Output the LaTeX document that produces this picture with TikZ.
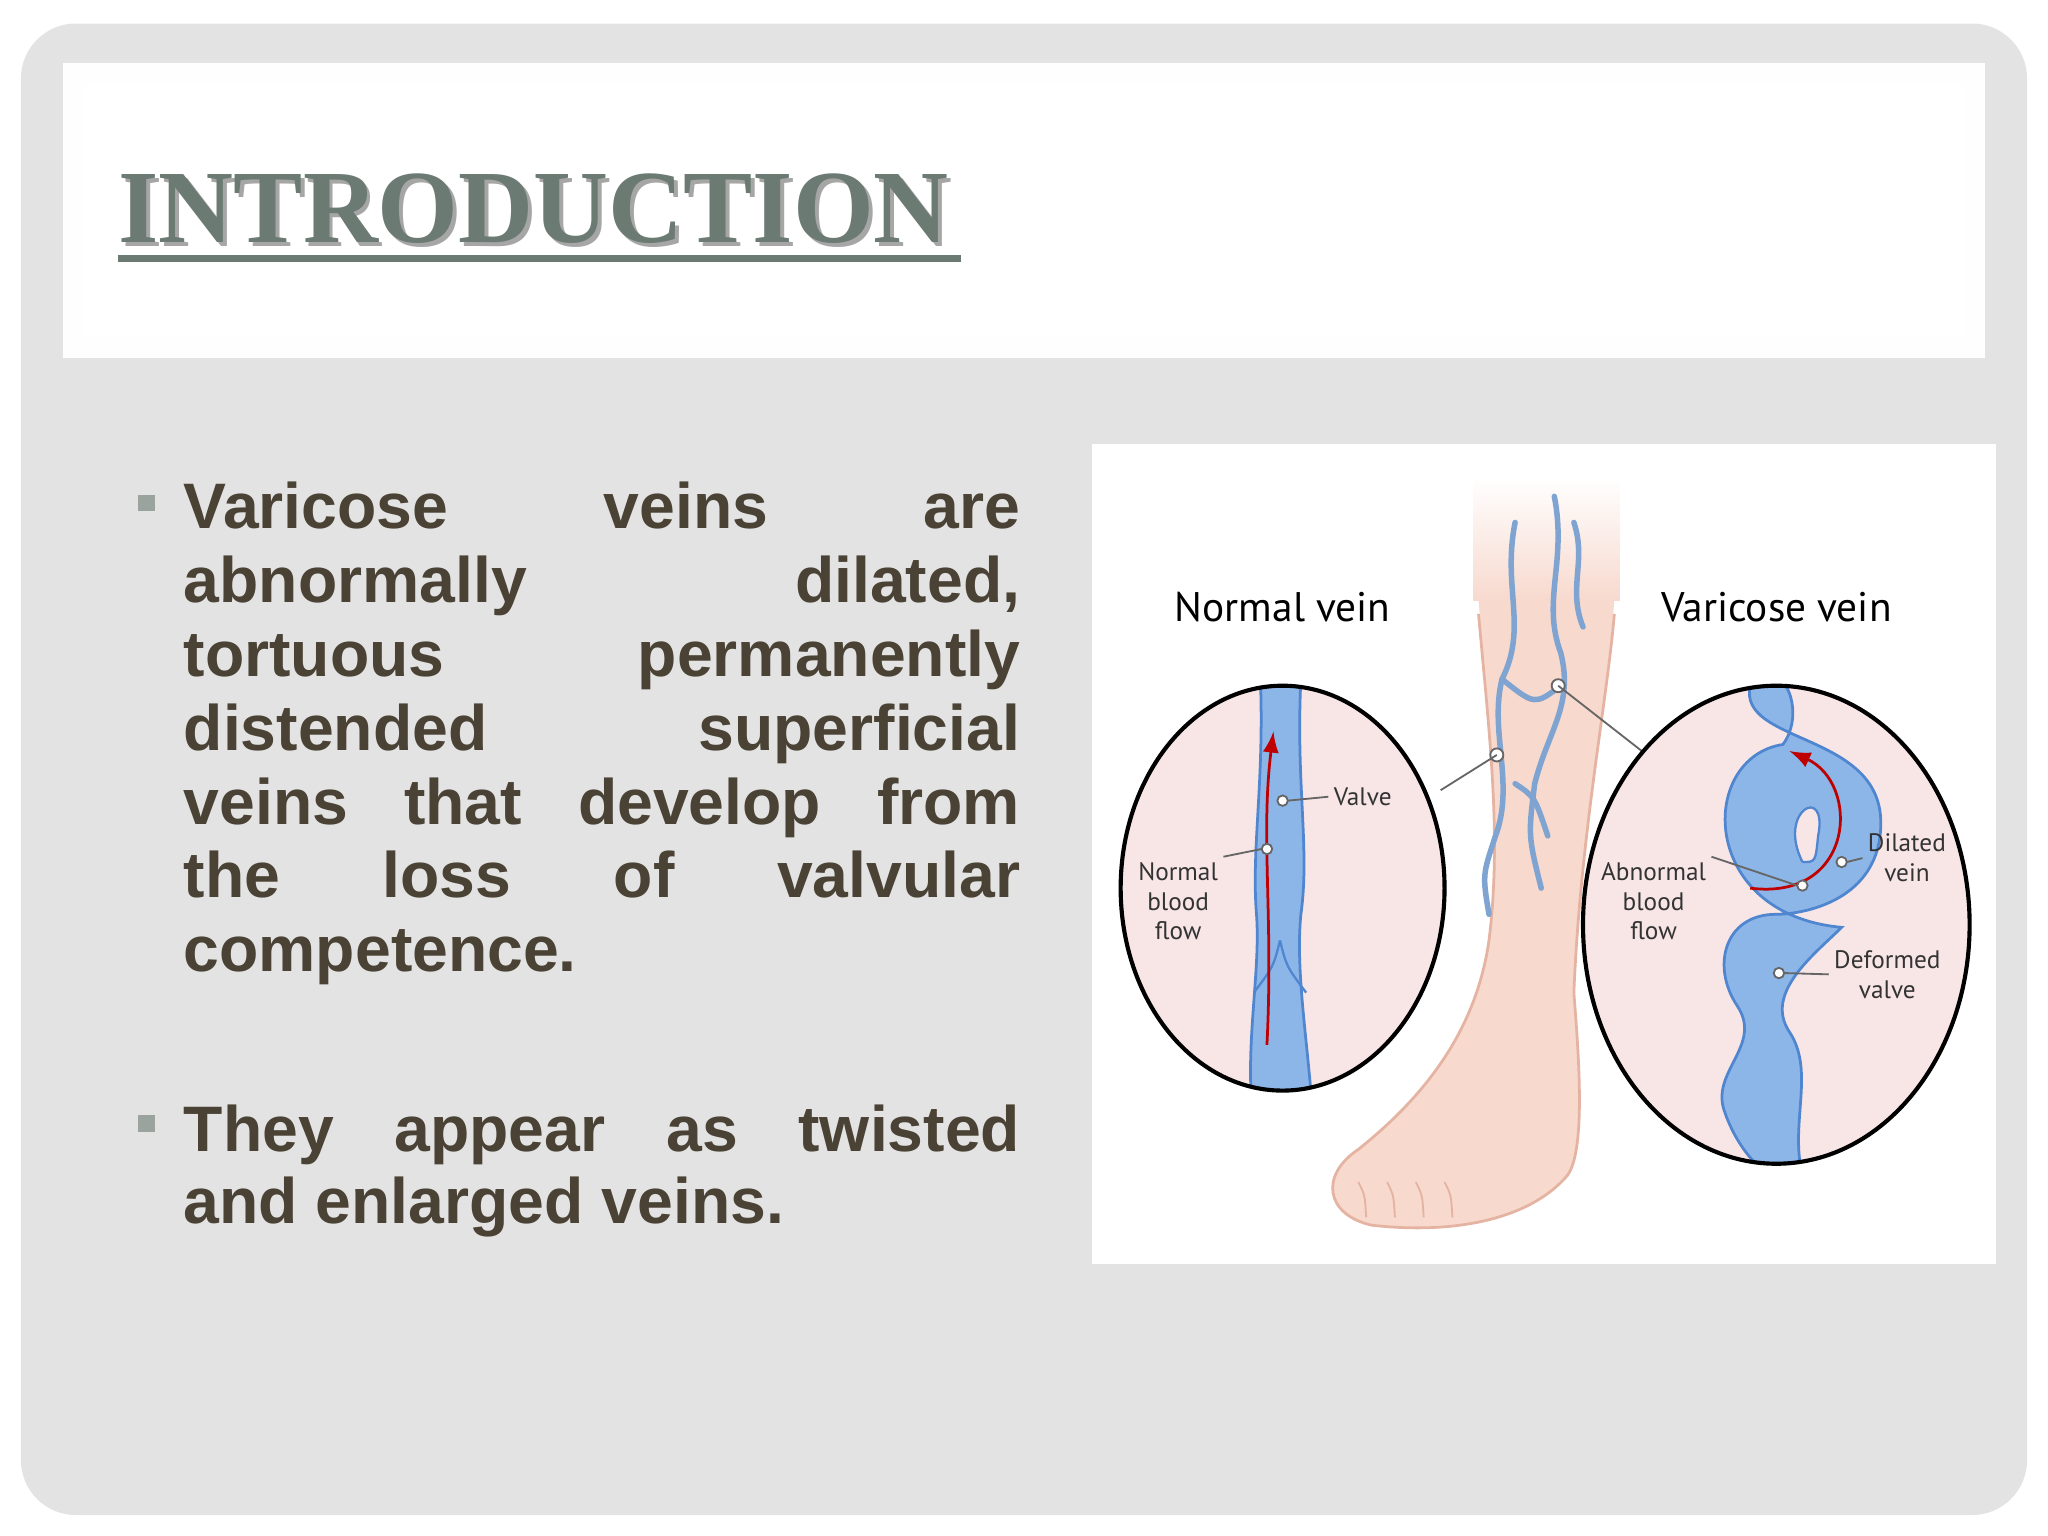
\documentclass[tikz,border=0pt]{standalone}
\usepackage{fontspec}
\setmainfont{Liberation Serif}
\setsansfont{Liberation Sans}
\newfontfamily\lblfont{PT Sans}
\begin{document}
\begin{tikzpicture}[x=0.01cm,y=-0.01cm,
  body/.style={anchor=base west,inner sep=0,font=\sffamily\bfseries\fontsize{14}{16}\selectfont,text=txt},
  bul/.style={fill=bulgray,minimum size=3.6pt,inner sep=0},
  lbl/.style={font=\lblfont\fontsize{5.5}{6.5}\selectfont,align=center,inner sep=1,text=black!80},
  vein/.style={fill=veinblue,draw=veindark,line width=0.6pt},
  thinvein/.style={draw=veinblue!90!black,line width=1.2pt,line cap=round}]
\definecolor{bg}{HTML}{E3E3E3}
\definecolor{txt}{HTML}{4A4234}
\definecolor{bulgray}{HTML}{9AA39E}
\definecolor{ttl}{HTML}{6B7A72}
\definecolor{skin}{HTML}{F7D9CE}
\definecolor{skinedge}{HTML}{E5B3A2}
\definecolor{veinblue}{HTML}{8DB6E8}
\definecolor{veindark}{HTML}{4F86CF}
\definecolor{pinkbg}{HTML}{F8E6E6}
\useasboundingbox (0,0) rectangle (1568,1176);
\fill[white] (0,0) rectangle (1568,1176);
\fill[bg,rounded corners=12] (16,18) rectangle (1552,1160);
\fill[white!95!bg] (48,48) rectangle (1520,274);
\fill[white] (64,64) rectangle (1504,258);
% title
\node[anchor=base west,inner sep=0,text=black!35,font=\bfseries\fontsize{22.6}{26}\selectfont] at (93,189) {INTRODUCTION};
\node (title) [anchor=base west,inner sep=0,text=ttl,font=\bfseries\fontsize{22.6}{26}\selectfont] at (90,186) {INTRODUCTION};
\draw[ttl,line width=1.5pt] (90,198) -- (736,198);
% bullets
\node (b1) [bul] at (112,385) {};
\node (b2) [bul] at (112,860) {};
\node (l1) [body] at (140,405) {\hbox to 6.4cm{Varicose\hfill veins\hfill are}};
\node (l2) [body] at (140,461.5) {\hbox to 6.4cm{abnormally\hfill dilated,}};
\node (l3) [body] at (140,518) {\hbox to 6.4cm{tortuous\hfill permanently}};
\node (l4) [body] at (140,574.5) {\hbox to 6.4cm{distended\hfill superficial}};
\node (l5) [body] at (140,631) {\hbox to 6.4cm{veins\hfill that\hfill develop\hfill from}};
\node (l6) [body] at (140,687.5) {\hbox to 6.4cm{the\hfill loss\hfill of\hfill valvular}};
\node (l7) [body] at (140,744) {competence.};
\node (m1) [body] at (140,882) {\hbox to 6.4cm{They\hfill appear\hfill as\hfill twisted}};
\node (m2) [body] at (140,937) {and enlarged veins.};
% image panel
\fill[white] (836,340) rectangle (1528,968);
% leg
\shade[top color=white,bottom color=skin] (1128,365) rectangle (1240,460);
\fill[skin] (1132,459) .. controls (1140,560) and (1150,640) .. (1140,720)
  .. controls (1130,790) and (1090,840) .. (1040,880) .. controls (1010,900) and (1015,930) .. (1050,938)
  .. controls (1110,945) and (1170,935) .. (1200,900) .. controls (1215,880) and (1208,800) .. (1205,760)
  .. controls (1210,640) and (1230,540) .. (1236,459) -- cycle;
\draw[skinedge,line width=0.6pt] (1132,470) .. controls (1140,560) and (1150,640) .. (1140,720)
  .. controls (1130,790) and (1090,840) .. (1040,880) .. controls (1010,900) and (1015,930) .. (1050,938)
  .. controls (1110,945) and (1170,935) .. (1200,900) .. controls (1215,880) and (1208,800) .. (1205,760)
  .. controls (1210,640) and (1230,540) .. (1236,470);
\foreach \a in {0,1,2,3} \draw[skinedge] (1040+\a*22,905) .. controls (1045+\a*22,915) .. (1046+\a*22,932);
\draw[thinvein] (1160,400) .. controls (1150,450) and (1170,480) .. (1150,520) .. controls (1140,560) and (1160,600) .. (1145,640) .. controls (1135,670) .. (1140,700);
\draw[thinvein] (1190,380) .. controls (1200,430) and (1180,460) .. (1195,500) .. controls (1205,540) and (1185,560) .. (1175,600) .. controls (1170,640) .. (1180,680);
\draw[thinvein] (1150,520) .. controls (1175,540) .. (1195,525);
\draw[thinvein] (1160,600) .. controls (1175,610) .. (1185,640);
\draw[thinvein] (1205,400) .. controls (1215,430) and (1200,450) .. (1212,480);
% connectors to leg
\coordinate (p1) at (1146,578);
\coordinate (p2) at (1193,525);
\draw[black!60,fill=white] (p1) circle (5);
\draw[black!60,fill=white] (p2) circle (5);
\draw[black!60] (1103,605) -- (p1);
\draw[black!60] (1257,575) -- (p2);
% left circle
\begin{scope}
\clip (982,680) ellipse (124 and 155);
\fill[pinkbg] (982,680) ellipse (124 and 155);
\fill[vein] (965,520) .. controls (968,600) and (958,650) .. (962,700) .. controls (965,740) and (955,790) .. (958,840) -- (1004,840) .. controls (1000,790) and (992,740) .. (996,700) .. controls (1003,650) and (992,600) .. (996,520) -- cycle;
\draw[veindark,line width=0.5pt] (960,760) .. controls (975,740) .. (980,720);
\draw[veindark,line width=0.5pt] (1000,760) .. controls (985,740) .. (980,720);
\draw[red!75!black,line width=0.6pt,-latex] (970,800) .. controls (975,700) and (965,640) .. (975,560);
\end{scope}
\draw[black,line width=0.9pt] (982,680) ellipse (124 and 155);
\draw[black!60,fill=white] (982,613) circle (4);
\draw[black!60,fill=white] (970,650) circle (4);
\node (valve) [lbl,anchor=west] at (1017,610) {Valve};
\draw[black!60] (986,613) -- (valve.west);
\node (nbf) [lbl] at (902,690) {Normal\\blood\\flow};
\draw[black!60] (nbf.north east) -- (966,650);
% right circle
\begin{scope}
\clip (1360,708) ellipse (148 and 183);
\fill[pinkbg] (1360,708) ellipse (148 and 183);
\fill[vein] (1340,525) .. controls (1330,570) and (1440,560) .. (1440,630) .. controls (1440,690) and (1380,700) .. (1360,700)
  .. controls (1320,700) and (1310,740) .. (1330,770) .. controls (1350,800) and (1310,820) .. (1320,850) .. controls (1330,880) and (1350,900) .. (1360,900)
  -- (1380,900) .. controls (1370,860) and (1390,820) .. (1370,790) .. controls (1350,760) and (1390,730) .. (1410,710)
  .. controls (1300,700) and (1300,580) .. (1365,570)
  .. controls (1380,550) and (1370,520) .. (1360,520) -- cycle;
\fill[pinkbg,draw=veindark,line width=0.5pt] (1380,660) .. controls (1360,620) and (1400,600) .. (1392,640) .. controls (1390,660) .. (1380,660);
\draw[red!75!black,line width=0.6pt,-latex] (1340,680) .. controls (1420,690) and (1425,600) .. (1370,575);
\end{scope}
\draw[black,line width=0.9pt] (1360,708) ellipse (148 and 183);
\draw[black!60,fill=white] (1410,660) circle (4);
\draw[black!60,fill=white] (1380,678) circle (4);
\draw[black!60,fill=white] (1362,745) circle (4);
\node (dv) [lbl] at (1460,657) {Dilated\\vein};
\node (abf) [lbl] at (1266,690) {Abnormal\\blood\\flow};
\node (dfv) [lbl] at (1445,746) {Deformed\\valve};
\draw[black!60] (dv.west) -- (1414,660);
\draw[black!60] (abf.north east) -- (1376,678);
\draw[black!60] (dfv.west) -- (1366,745);
\node (nv) [font=\lblfont\fontsize{9}{11}\selectfont] at (982,465) {Normal vein};
\node (vv) [font=\lblfont\fontsize{9}{11}\selectfont] at (1360,465) {Varicose vein};
\end{tikzpicture}
\end{document}
